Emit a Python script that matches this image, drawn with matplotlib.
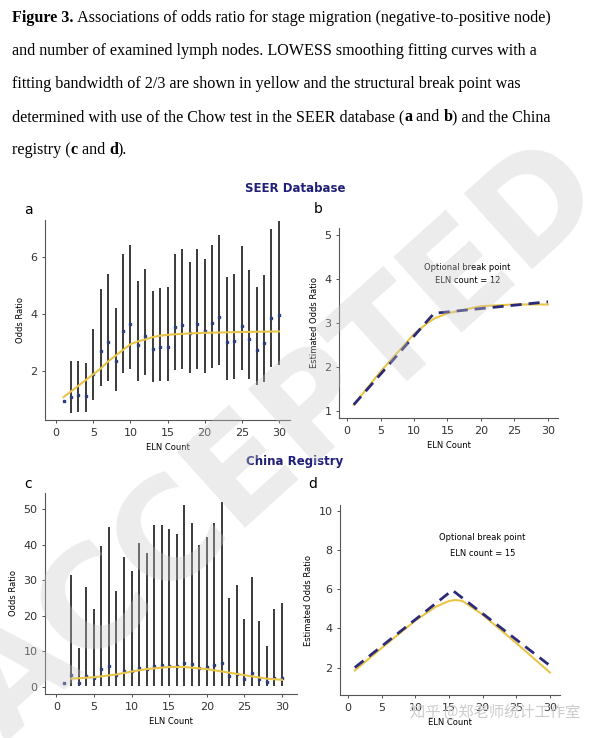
import matplotlib
matplotlib.use("Agg")
import matplotlib.pyplot as plt
import numpy as np

# ---------- data ----------
eln = list(range(1, 31))
seer_or = [0.97,1.12,1.18,1.15,1.9,2.72,3.03,2.35,3.42,3.67,2.93,3.25,2.8,2.85,2.85,3.55,3.62,3.35,3.65,3.4,3.7,3.9,3.02,3.08,3.6,3.12,2.75,2.98,3.88,3.97]
seer_hi = [np.nan,2.35,2.38,2.28,3.5,4.9,5.42,4.22,6.1,6.42,5.18,5.58,4.83,4.93,4.97,6.1,6.28,5.83,6.3,5.95,6.42,6.78,5.32,5.42,6.38,5.55,4.97,5.38,6.97,7.25]
seer_lo = [np.nan,0.53,0.58,0.58,1.0,1.48,1.67,1.3,1.95,2.1,1.65,1.88,1.62,1.65,1.65,2.05,2.1,1.95,2.1,1.95,2.12,2.22,1.7,1.72,2.05,1.75,1.52,1.62,2.15,2.22]
seer_lw_x = [1,2,3,4,5,6,7,8,9,10,11,12,13,14,15,16,18,20,25,30]
seer_lw_y = [1.1,1.3,1.5,1.7,1.9,2.1,2.35,2.55,2.75,2.95,3.05,3.12,3.2,3.25,3.28,3.3,3.33,3.35,3.38,3.4]

china_or = [1.2,3.3,1.2,3.0,2.5,5.0,5.8,3.4,4.5,4.4,5.2,5.1,6.0,6.2,6.0,5.8,6.7,6.3,5.2,5.5,6.2,6.7,3.2,3.6,2.3,3.8,2.3,1.4,2.6,2.6]
china_hi = [np.nan,31.5,11,28,22,39.5,45,27,36.5,32.5,40.5,37.5,45.5,45.5,44.5,43,51,46,40,42,46,52,25,28.5,19,31,18.5,11.5,22,23.5]
china_lo = [np.nan]+[0.3]*29
china_lw_x = [2,5,8,10,12,15,17,20,23,25,28,30]
china_lw_y = [2.3,2.7,3.5,4.3,5.0,5.6,5.6,5.0,4.0,3.3,2.3,2.0]

b_fit_x = [1,12,13,30]
b_fit_y = [1.15,3.05,3.22,3.48]
b_lw_x = [1,5,10,12,13,15,20,25,30]
b_lw_y = [1.15,1.9,2.75,3.0,3.1,3.22,3.38,3.42,3.42]

d_fit_x = [1,15.5,30]
d_fit_y = [2.0,5.95,2.1]
d_lw_x = [1,5,10,13,15,16,17,20,25,30]
d_lw_y = [1.85,3.0,4.4,5.1,5.4,5.45,5.4,4.7,3.25,1.75]

W, H = 598, 738
fig = plt.figure(figsize=(W/100, H/100), dpi=100)

def ax_px(l, t, r, b):
    return fig.add_axes([l/W, 1-b/H, (r-l)/W, (b-t)/H])

# ---------- caption ----------
serif = "Liberation Serif"
lines = [
    [("Figure 3.", "bold"), (" Associations of odds ratio for stage migration (negative-to-positive node)", "normal")],
    [("and number of examined lymph nodes. LOWESS smoothing fitting curves with a", "normal")],
    [("fitting bandwidth of 2/3 are shown in yellow and the structural break point was", "normal")],
    [("determined with use of the Chow test in the SEER database (", "normal"), ("a", "bold"), (" and ", "normal"), ("b", "bold"), (") and the China", "normal")],
    [("registry (", "normal"), ("c", "bold"), (" and ", "normal"), ("d", "bold"), (").", "normal")],
]
fig.canvas.draw()
r = fig.canvas.get_renderer()
for i, segs in enumerate(lines):
    x = 12
    y = 18 + 33*i
    for s, w in segs:
        t = fig.text(x/W, 1-y/H, s, fontsize=11.6, family=serif, weight=w, va="center", ha="left")
        bb = t.get_window_extent(r)
        x += bb.width

def style(ax):
    for s in ["top", "right"]:
        ax.spines[s].set_visible(False)
    for s in ["left", "bottom"]:
        ax.spines[s].set_color("#555")
    ax.tick_params(labelsize=8, colors="#333", length=2, width=0.6)
    ax.set_xticks([0,5,10,15,20,25,30])

ycol = "#e8c547"
navy = "#2b2a78"

# ---------- panel a ----------
a = ax_px(45, 220, 290, 420)
a.vlines(eln, seer_lo, seer_hi, color="#3a3a3a", lw=1.4)
a.plot(eln, seer_or, "s", ms=2, color="#2c3e7a")
a.plot(seer_lw_x, seer_lw_y, color=ycol, lw=1.5)
a.set_xlim(-1.5, 31.5); a.set_ylim(0.3, 7.3)
a.set_yticks([2,4,6])
a.set_xlabel("ELN Count", fontsize=6); a.set_ylabel("Odds Ratio", fontsize=6)
style(a)

# ---------- panel b ----------
b = ax_px(339, 228, 558, 418)
b.plot(b_lw_x, b_lw_y, color=ycol, lw=1.5)
b.plot(b_fit_x, b_fit_y, "--", color=navy, lw=2, dashes=(4, 2.5))
b.set_xlim(-1.2, 31.5); b.set_ylim(0.85, 5.15)
b.set_yticks([1,2,3,4,5])
b.text(18, 4.2, "Optional break point", fontsize=6, ha="center")
b.text(18, 3.9, "ELN count = 12", fontsize=6, ha="center")
b.set_xlabel("ELN Count", fontsize=6); b.set_ylabel("Estimated Odds Ratio", fontsize=6)
style(b)

# ---------- panel c ----------
c = ax_px(45, 493, 297, 694)
c.vlines(eln, china_lo, china_hi, color="#3a3a3a", lw=1.4)
c.plot(eln, china_or, "s", ms=2, color="#2c3e7a")
c.plot(china_lw_x, china_lw_y, color=ycol, lw=1.5)
c.set_xlim(-1.5, 32); c.set_ylim(-2, 54.5)
c.set_yticks([0,10,20,30,40,50])
c.set_xlabel("ELN Count", fontsize=6); c.set_ylabel("Odds Ratio", fontsize=6)
style(c)

# ---------- panel d ----------
d = ax_px(340, 505, 560, 695)
d.plot(d_lw_x, d_lw_y, color=ycol, lw=1.5)
d.plot(d_fit_x, d_fit_y, "--", color=navy, lw=2, dashes=(4, 2.5))
d.set_xlim(-1.2, 31.5); d.set_ylim(0.6, 10.3)
d.set_yticks([2,4,6,8,10])
d.text(20, 8.5, "Optional break point", fontsize=6, ha="center")
d.text(20, 7.7, "ELN count = 15", fontsize=6, ha="center")
d.set_xlabel("ELN Count", fontsize=6); d.set_ylabel("Estimated Odds Ratio", fontsize=6)
style(d)

# ---------- titles / labels ----------
fig.text(295/W, 1-188/H, "SEER Database", fontsize=8.5, weight="bold", color="#1f1f7a", ha="center", va="center")
fig.text(295/W, 1-462/H, "China Registry", fontsize=8.5, weight="bold", color="#1f1f7a", ha="center", va="center")
for lab, x, y in [("a", 28, 210), ("b", 318, 209), ("c", 28, 484), ("d", 313, 484)]:
    fig.text(x/W, 1-y/H, lab, fontsize=10, ha="center", va="center")

# watermarks
fig.text(0.47, 0.40, "ACCEPTED", fontsize=100, rotation=42, color="#c8c8c8", alpha=0.35,
         ha="center", va="center", weight="bold", zorder=10)
fig.text(580/W, 1-712/H, "知乎 @郑老师统计工作室", fontsize=11, color="#cccccc", ha="right", va="center",
         family=["Noto Sans CJK SC", "DejaVu Sans"], zorder=11)

fig.savefig("out.png", dpi=100)
